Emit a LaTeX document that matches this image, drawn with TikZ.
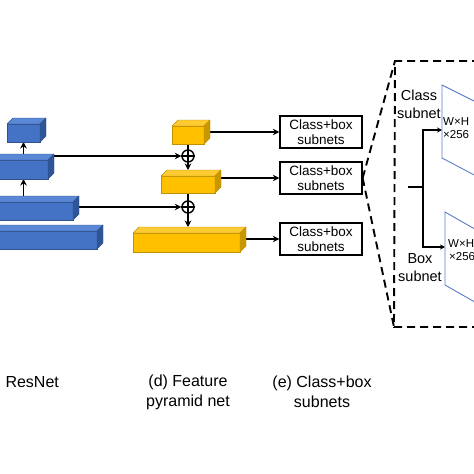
\documentclass[tikz,border=0pt]{standalone}
\usepackage{fontspec}
\setmainfont{Liberation Sans}
\usetikzlibrary{arrows.meta,calc}
\definecolor{bfront}{HTML}{4472C4}
\definecolor{btop}{HTML}{5A87D6}
\definecolor{bside}{HTML}{2F5597}
\definecolor{bedge}{HTML}{2F528F}
\definecolor{yfront}{HTML}{FFC000}
\definecolor{ytop}{HTML}{FFCB33}
\definecolor{yside}{HTML}{C79800}
\definecolor{yedge}{HTML}{BF9000}
\definecolor{tblue}{HTML}{5B7FC4}
\pgfdeclarelayer{lines}
\pgfsetlayers{lines,main}
\newcommand\mycuboid[9]{%
 \node[face, fill=#6, draw=#9, minimum width=#4pt, minimum height=#5pt, anchor=north west] (#1) at (#2,#3) {};
 \filldraw[fill=#7, draw=#9, line join=round] (#1.north west) -- ++(6,-6) -- ([shift={(6pt,6pt)}]#1.north east) -- (#1.north east) -- cycle;
 \filldraw[fill=#8, draw=#9, line join=round] (#1.north east) -- ++(6,-6) -- ([shift={(6pt,6pt)}]#1.south east) -- (#1.south east) -- cycle;
}
\tikzset{
 face/.style={rectangle, inner sep=0pt, outer sep=0pt, line width=0.7pt},
 conn/.style={line width=1.8pt, black},
 tip/.style={-{Stealth[length=6.5pt,width=6.5pt]}},
 smalltip/.style={-{Stealth[length=5pt,width=5pt]}},
 oplus/.style={circle, draw, line width=1.4pt, minimum size=12pt, inner sep=0pt, fill=white},
 subbox/.style={draw, line width=1.3pt, minimum width=82pt, minimum height=32pt, inner sep=0pt, align=center, font=\fontsize{13.5}{15}\selectfont},
 dashline/.style={line width=1.9pt, dash pattern=on 8pt off 5pt},
 caption/.style={align=center, font=\fontsize{16}{20}\selectfont},
 dimtext/.style={anchor=west, inner sep=0pt, font=\fontsize{11.5}{12}\selectfont},
 sublabel/.style={align=center, inner sep=0pt, font=\fontsize{14.5}{18}\selectfont},
}
\begin{document}
\begin{tikzpicture}[x=1pt,y=-1pt]
\useasboundingbox (0,0) rectangle (474,474);
\clip (0,0) rectangle (474,474);
% blue ResNet cuboids
\mycuboid{b1}{7}{124}{33}{18}{bfront}{btop}{bside}{bedge}
\mycuboid{b2}{-6}{160}{54}{19}{bfront}{btop}{bside}{bedge}
\mycuboid{b3}{-6}{202}{79}{18}{bfront}{btop}{bside}{bedge}
\mycuboid{b4}{-6}{231}{103}{18}{bfront}{btop}{bside}{bedge}
% yellow FPN cuboids
\mycuboid{y1}{172}{126}{32}{18}{yfront}{ytop}{yside}{yedge}
\mycuboid{y2}{161}{176}{54}{17}{yfront}{ytop}{yside}{yedge}
\mycuboid{y3}{133}{233}{107}{19}{yfront}{ytop}{yside}{yedge}
% merge nodes
\node[oplus] (c1) at (188,156) {};
\node[oplus] (c2) at (188,207) {};
\draw[line width=1.4pt] (c1.north) -- (c1.south) (c1.west) -- (c1.east);
\draw[line width=1.4pt] (c2.north) -- (c2.south) (c2.west) -- (c2.east);
% subnet boxes
\node[subbox] (s1) at (321,132) {Class+box\\subnets};
\node[subbox] (s2) at (321,178) {Class+box\\subnets};
\node[subbox] (s3) at (321,239) {Class+box\\subnets};
% zoom box
\coordinate (dtl) at (395,61);
\coordinate (dbl) at (394,327);
\coordinate (dtr) at (480,61);
\coordinate (dbr) at (480,327);
\draw[dashline] (s2.east) -- (dtl);
\draw[dashline] (s2.east) -- (dbl);
\draw[dashline] (dtr) -- (dtl) -- (dbl) -- (dbr);
% inside zoom
\node[sublabel] (lc) at (419,104) {Class\\subnet};
\node[sublabel] (lb) at (420,268) {Box\\subnet};
\coordinate (br0) at (408,187);
\coordinate (brj) at (423,187);
\coordinate (t1) at (442,130);
\coordinate (t2) at (445,247);
\draw[line width=1.5pt] (br0) -- (brj);
\draw[line width=1.3pt, smalltip] (brj) |- (t1);
\draw[line width=1.3pt, smalltip] (brj) |- (t2);
\draw[tblue, line width=0.9pt] (480,104) -- (442,85) -- (442,158) -- (480,178);
\draw[tblue, line width=0.9pt] (480,232) -- (445,212) -- (445,285) -- (480,305);
\node[dimtext] (w1) at (443,122) {W×H};
\node[dimtext] (x1) at (443,135) {×256};
\node[dimtext] (w2) at (448,244) {W×H};
\node[dimtext] (x2) at (449,257) {×256};
% captions
\node[caption, anchor=west] (cap1) at (2,382) {ResNet};
\node[caption] (cap2) at (188,392) {(d) Feature\\pyramid net};
\node[caption] (cap3) at (322,392) {(e) Class+box\\subnets};
% connectors underneath
\begin{pgfonlayer}{lines}
\fill[white] (0,0) rectangle (474,474);
\draw[conn, tip] ([yshift=6pt]b1.south |- b2.north) -- (b1.south);
\draw[conn, tip] ([yshift=6pt]b1.south |- b3.north) -- (b1.south |- b2.south);
\draw[conn, tip] (c1.west -| b2.east) -- (c1.west);
\draw[conn, tip] (c2.west -| b3.east) -- (c2.west);
\draw[conn] (y1.south) -- (c1.north);
\draw[conn, tip] (c1.south) -- ([yshift=6pt]c1.south |- y2.north);
\draw[conn] (c1.south |- y2.south) -- (c2.north);
\draw[conn, tip] (c2.south) -- ([yshift=6pt]c2.south |- y3.north);
\draw[conn, tip] (s1.west -| y1.east) -- (s1.west);
\draw[conn, tip] (s2.west -| y2.east) -- (s2.west);
\draw[conn, tip] (s3.west -| y3.east) -- (s3.west);
\end{pgfonlayer}
\end{tikzpicture}
\end{document}
